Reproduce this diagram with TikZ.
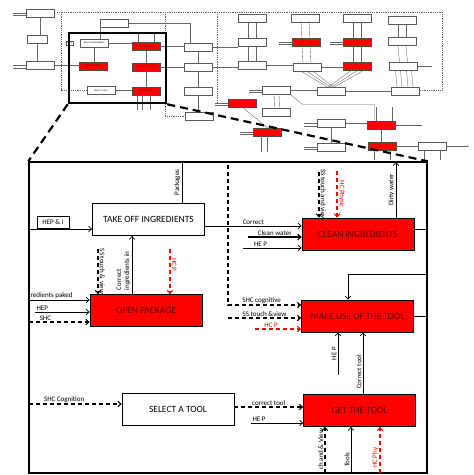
\documentclass[tikz,border=0pt]{standalone}
\usepackage{fontspec}
\setmainfont{Carlito}
\usetikzlibrary{calc,arrows.meta}
\tikzset{
	box/.style={draw, line width=0.8pt, minimum width=112pt, minimum height=32pt, inner sep=0pt, font=\fontsize{9.5}{11}\selectfont},
	hotbox/.style={box, fill=red, text=red!35!black},
	mini/.style={draw=black!65, line width=0.4pt, fill=white, minimum width=28pt, minimum height=8pt, inner sep=0pt, font=\fontsize{2.2}{2.5}\selectfont},
	hotmini/.style={mini, fill=red, draw=black!70, text=red!35!black},
	wire/.style={line width=0.7pt},
	flow/.style={wire, -{Straight Barb[length=3pt,width=5.5pt]}},
	cue/.style={flow, line width=1.1pt, dash pattern=on 4pt off 3pt},
	hazard/.style={cue, red},
	lbl/.style={font=\fontsize{7}{8}\selectfont, inner sep=1.2pt},
	redlbl/.style={lbl, text=red},
	faint/.style={draw=black!60, line width=0.35pt},
	dots/.style={draw=black!60, line width=0.5pt, dash pattern=on 0.8pt off 1pt},
	zoomline/.style={line width=2.2pt, dash pattern=on 8pt off 5pt}
}
\def\minibox[#1](#2)#3#4{\node[#1] (#3) at (#2) {#4};}

\begin{document}
\begin{tikzpicture}[x=1pt,y=-1pt]
	\useasboundingbox (0,0) rectangle (474,475);

	\draw[dots] (57,12) -- (442,12) -- (442,90) -- (419,90);
	\draw[dots] (61,12) |- (88,90);
	\draw[dots] (165,12) |- (185,116);
	\draw[dots] (217,12) |- (229,103);

	\minibox[mini](40.5,13){ov1}{}
	\minibox[mini, minimum width=20pt](37,39){ov2}{}
	\minibox[mini](40.5,65.5){ov3}{}
	\minibox[mini](114.5,23.5){ov4}{}
	\minibox[mini](94,43){ovtake}{TAKE OFF INGREDIENTS}
	\minibox[hotmini](93,66){ovopen}{OPEN PACKAGE}
	\minibox[hotmini](146,46.5){ovclean}{CLEAN INGREDIENTS}
	\minibox[hotmini](146,67){ovmake}{MAKE USE OF THE TOOL}
	\minibox[mini](101,90.5){ovselect}{SELECT A TOOL}
	\minibox[hotmini](146.5,91){ovget}{GET THE TOOL}
	\minibox[mini](198,47){ov11}{}
	\minibox[mini](198,67){ov12}{}
	\minibox[mini](198.5,91){ov13}{}
	\minibox[mini](199,116){ov14}{}
	\minibox[hotmini](242.5,103){ov15}{}
	\minibox[mini](252.5,18){ova}{}
	\minibox[mini](305,18){ovb}{}
	\minibox[mini](357,18){ovc}{}
	\minibox[mini](402,20.5){ovd}{}
	\minibox[mini](252.5,42.5){ove}{}
	\minibox[hotmini](306,42){ovf}{}
	\minibox[hotmini](357,42){ovg}{}
	\minibox[mini](402,41.5){ovh}{}
	\minibox[mini](252.5,65.5){ovi}{}
	\minibox[mini](307,67){ovj}{}
	\minibox[hotmini](357,66.5){ovk}{}
	\minibox[mini](403.5,66){ovl}{}
	\minibox[mini](276,90){ovm}{}
	\minibox[mini](331,91.5){ovn}{}
	\minibox[mini](405,91.5){ovo}{}
	\minibox[mini](276.5,112){ovq}{}
	\minibox[hotmini](267.5,132){ovr}{}
	\minibox[mini](331.5,123.5){ovs}{}
	\minibox[hotmini](381.5,125){ovt}{}
	\minibox[mini](331.5,147){ovu}{}
	\minibox[hotmini](382,146){ovv}{}
	\minibox[mini](432.5,146){ovw}{}
	\node[draw=black!65, line width=0.3pt, minimum width=7pt, minimum height=4pt, inner sep=0pt, font=\fontsize{1.5}{2}\selectfont] (ovtag) at (70,43) {HEP \& I};

	\draw[faint] (ov1.south) -- (ov1.south |- ov2.north);
	\draw[faint] (ov2.south) -- (ov2.south |- ov3.north);
	\draw[faint] (ov3.east) -- (ov3.east -| ovopen.west);
	\draw[faint] (ov4.west) -| ($(ovtake.north)+(6,0)$);
	\draw[faint] (ov4.east) -| ($(ov11.north)+(-8,0)$);
	\draw[faint] (ovtake.east) -- (ovtake.east -| ovclean.west);
	\draw[faint] (ovtake.south) -- (ovtake.south |- ovopen.north);
	\draw[faint] (ovclean.east) -- (ovclean.east -| ov11.west);
	\draw[faint] (ovclean.south) -- (ovclean.south |- ovmake.north);
	\draw[faint] (ovmake.east) -- (ovmake.east -| ov12.west);
	\draw[faint] (ovget.north) -- (ovget.north |- ovmake.south);
	\draw[faint] (ovselect.east) -- (ovselect.east -| ovget.west);
	\draw[faint] (ov11.south) -- (ov11.south |- ov12.north);
	\draw[faint] (ov12.south) -- (ov12.south |- ov13.north);
	\draw[faint] (ov13.south) -- (ov13.south |- ov14.north);
	\draw[faint] (ov11.east) -- (ov11.east -| ove.west);
	\draw[faint] (ov12.east) -- (ov12.east -| ovi.west);
	\draw[faint] (ovi.east) -- (ovi.east -| ovj.west);
	\draw[faint] (ovj.east) -- (ovj.east -| ovk.west);
	\draw[faint] (ovm.east) -- (ovm.east -| ovn.west);
	\draw[faint] (ovn.east) -- (ovn.east -| ovo.west);
	\draw[faint] (ovs.east) -- (ovs.east -| ovt.west);
	\draw[faint] (ovv.east) -- (ovv.east -| ovw.west);
	\draw[faint] (ovs.south) -- (ovs.south |- ovu.north);
	\draw[faint] (ovt.south) -- (ovt.south |- ovv.north);
	\draw[faint] (ov15.south) -- (ovr.north);
	\draw[faint] (ovm.south east) -- ++(12,10) -| ($(ovt.north)+(-7,0)$);
	\draw[faint, -{Straight Barb[length=1pt,width=2pt]}] (ovw.east) -- ++(22,0);
	\draw[faint] (ovt.east) -- ++(26,0);
	\draw[faint] (ovl.east) -- ++(14,0);
	\foreach \u/\v in {a/e,b/f,c/g,d/h,e/i,f/j,g/k,h/l}
		\draw[faint] ($(ov\u.south)+(-4,0)$) -- ($(ov\v.north)+(-4,0)$) ($(ov\u.south)+(4,0)$) -- ($(ov\v.north)+(4,0)$);
	\foreach \d in {-8,-3,3,8}
		\draw[faint] ($(ovl.south)+(\d,0)$) -- ($(ovo.north)+(\d,0)$);
	\foreach \d in {-6,0,6}
		\draw[faint] ($(ovj.south)+(\d,0)$) -- ($(ovn.north)+(\d/2,0)$) ($(ovk.south)+(\d,0)$) -- ($(ovn.north)+(\d/2,0)$);
	\foreach \d in {-2,3}
		\draw[faint] ($(ovm.south)+(\d,0)$) -- ($(ovq.north)+(\d,0)$);
	\foreach \d in {-9,-4,4}
		\draw[faint] ($(ovget.south)+(\d,0)$) -- ++(0,15);
	\foreach \d in {-6,0}
		\draw[faint] ($(ovr.south)+(\d,0)$) -- ++(0,16);
	\foreach \d in {-8,8}
		\draw[faint] ($(ovclean.north)+(\d,0)$) -- ++(0,-9) ($(ovt.north)+(\d+3,0)$) -- ++(0,-14) ($(ovv.south)+(\d,0)$) -- ++(0,10) ($(ovw.south)+(\d,0)$) -- ++(0,10);
	\foreach \n in {ov1,ov3,ovf,ovg,ovm,ovr,ovs,ovu,ov15}
		\draw[faint] (\n.west) -- ++(-13,0) ($(\n.west)+(0,2.5)$) -- ++(-13,0);

	\node[draw, line width=2.5pt, minimum width=97pt, minimum height=70pt, inner sep=0pt] (lens) at (117.5,68) {};
	\node[draw, line width=1.4pt, minimum width=398pt, minimum height=311pt, inner sep=0pt] (inset) at (228,317.5) {};
	\draw[zoomline] (lens.south west) -- (inset.north west);
	\draw[zoomline] (lens.south east) -- (inset.north east);

	\node[box] (take) at (148.5,219.5) {TAKE OFF INGREDIENTS};
	\node[hotbox] (openp) at (146,310.5) {OPEN PACKAGE};
	\node[hotbox] (clean) at (358,234) {CLEAN INGREDIENTS};
	\node[hotbox] (makeuse) at (357.5,316) {MAKE USE OF THE TOOL};
	\node[box] (select) at (178,409) {SELECT A TOOL};
	\node[hotbox] (get) at (359.5,410.5) {GET THE TOOL};
	\node[lbl, draw, minimum width=32pt, minimum height=12pt, inner sep=0pt] (tagI) at (53,222) {HEP \& I};

	\coordinate (pk) at (182,162);
	\coordinate (hepI) at (29,229);
	\coordinate (water) at (248,237);
	\coordinate (hepA) at (243,248);
	\coordinate (ssA) at (319,172);
	\coordinate (hcA) at (337,171);
	\coordinate (dirty) at (396,162);
	\coordinate (backA) at (427,229);
	\coordinate (backB) at (427,274);
	\coordinate (shcA) at (228,165);
	\coordinate (ssB) at (228,318);
	\coordinate (hcB) at (255,329);
	\coordinate (paked) at (29,300);
	\coordinate (hepB) at (35,312);
	\coordinate (shcB) at (29,322);
	\coordinate (ssC) at (98,249);
	\coordinate (hcC) at (170,249);
	\coordinate (shcC) at (29,404);
	\coordinate (hepC) at (251,423);
	\coordinate (hepD) at (338,375);
	\coordinate (ssD) at (325,473);
	\coordinate (tools) at (351,473);
	\coordinate (hcD) at (380,473);

	\draw[wire] (take.north -| pk) -- node[lbl, above, sloped] {Packages} (pk);
	\draw[flow] (hepI) -- (hepI -| take.west);
	\draw[flow] ($(take.east)+(0,6.5)$) -- node[lbl, above] {Correct} ($(clean.west)+(0,-8)$);
	\draw[flow, line width=1.2pt] (water) -- node[lbl, above] {Clean water} (water -| clean.west);
	\draw[flow] (hepA) -- node[lbl, above, pos=0.3] {HE P} (hepA -| clean.west);
	\draw[cue] (ssA) -- node[lbl, above, sloped] {SS touch and view} (ssA |- clean.north);
	\draw[hazard] (hcA) -- node[redlbl, above, sloped] {HC Physic} (hcA |- clean.north);
	\draw[flow] (dirty |- clean.north) -- node[lbl, above, sloped] {Dirty water} (dirty);
	\draw[wire] ($(clean.east)+(0,-5)$) -- (backA);
	\draw[flow] (backB) -| ($(makeuse.north)+(-9.5,0)$);
	\draw[wire] (makeuse.east) -- (makeuse.east -| backA);

	\draw[cue] (shcA) |- node[lbl, above, pos=0.73] {SHC cognitive} ($(makeuse.west)+(0,-11)$);
	\draw[cue] (ssB) -- node[lbl, above] {SS touch \&view} (ssB -| makeuse.west);
	\draw[hazard] (hcB) -- node[redlbl, above, pos=0.35] {HC P} (hcB -| makeuse.west);

	\draw[flow] (paked) -- node[lbl, above right, pos=0] {redients paked} (paked -| openp.west);
	\draw[flow] (hepB) -- node[lbl, above right, pos=0] {HEP} (hepB -| openp.west);
	\draw[cue] (shcB) -- node[lbl, above right, pos=0, xshift=9pt] {SHC} (shcB -| openp.west);
	\draw[cue] (ssC) -- node[lbl, above, sloped] {SS touch \& view} (ssC |- openp.north);
	\draw[flow] ($(openp.north)+(-14,0)$) -- node[lbl, above, sloped, align=left, pos=0.4] {Correct\\ingredients in} ($(take.south)+(-16.5,0)$);
	\draw[hazard] (hcC) -- node[redlbl, above, sloped, pos=0.35] {HC P} (hcC |- openp.north);

	\draw[cue] (shcC) -- node[lbl, above, pos=0.38] {SHC Cognition} (shcC -| select.west);
	\draw[cue] ($(select.east)+(0,-2)$) -- node[lbl, above] {correct tool} ($(get.west)+(0,-3.5)$);
	\draw[flow] (hepC) -- node[lbl, above right, pos=0] {HE P} (hepC -| get.west);
	\draw[flow] ($(get.north)+(3.5,0)$) -- node[lbl, above, sloped, pos=0.36] {Correct tool} ($(makeuse.south)+(5.5,0)$);
	\draw[flow] (hepD) -- node[lbl, above, sloped] {HE P} (hepD |- makeuse.south);
	\draw[cue] (ssD) -- node[lbl, sloped, anchor=south east, pos=1] {ch and \& View} (ssD |- get.south);
	\draw[flow] (tools) -- node[lbl, above, sloped, pos=0.29] {Tools} (tools |- get.south);
	\draw[hazard] (hcD) -- node[redlbl, above, sloped, pos=0.33] {HC Phy} (hcD |- get.south);
\end{tikzpicture}
\end{document}
